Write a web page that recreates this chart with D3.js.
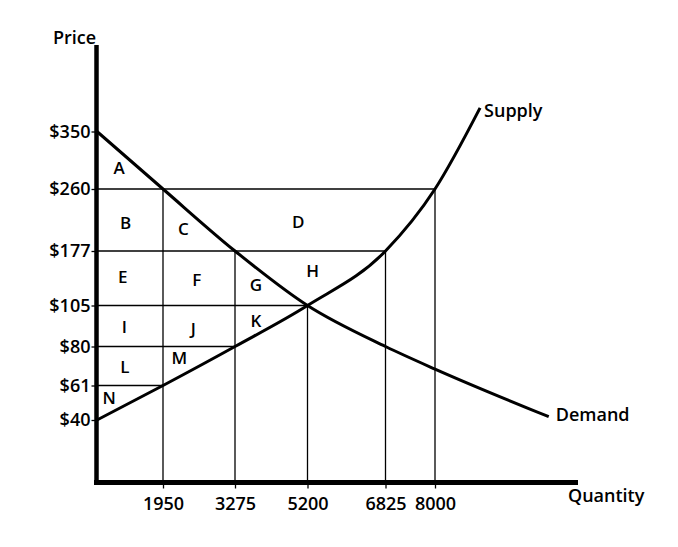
<!DOCTYPE html>
<html><head><meta charset="utf-8">
<script src="https://cdn.jsdelivr.net/npm/d3@7"></script>
<style>body{margin:0;background:#fff} svg{display:block} text{font-family:"Open Sans",sans-serif;font-weight:600;fill:#000}</style>
</head><body><svg id="c" width="678" height="547"></svg>
<script>
// ---- data ----
const quantityTicks = [1950, 3275, 5200, 6825, 8000];
const priceTicks = [40, 61, 80, 105, 177, 260, 350];
const priceLabels = ["$40", "$61", "$80", "$105", "$177", "$260", "$350"];
const supplyQ = [0, 1950, 3275, 5200, 6825, 8000, 9070];
const supplyP = [40, 61, 80, 105, 177, 260, 387];
const demandQ = [0, 1950, 3275, 5200, 6825, 8000, 10700];
const demandP = [350, 260, 177, 105, 80, 69, 42];
const hLinePrice = [260, 177, 105, 80, 61];
const hLineEndQ = [8000, 6825, 5200, 3275, 1950];
const vLineQ = [1950, 3275, 5200, 6825, 8000];
const vLineTopP = [260, 177, 105, 177, 260];
const areaLetters = ["A","B","C","D","E","F","G","H","I","J","K","L","M","N"];
const letterQ = [650, 848, 2324, 4956, 760, 2570, 3833, 5308, 807, 2508, 3833, 827, 2250, 363];
const letterP = [293, 215, 206, 216, 143, 139, 132, 151, 92, 90.5, 95.7, 70.2, 74.4, 53.6];

// ---- layout ----
const svg = d3.select("#c");
const x = d3.scaleLinear().domain([0, 1950, 3275, 5200, 6825, 8000]).range([97, 163, 235, 307.5, 385.5, 435]);
const y = d3.scaleLinear().domain([40, 61, 80, 105, 177, 260, 350]).range([420, 385.5, 346.5, 305.5, 251, 189, 131.5]);
const axisY0 = 482.5, axisX0 = 96.5;
const thin = 1.3;

// grid lines
svg.append("g").selectAll("line").data(hLinePrice).join("line")
  .attr("x1", axisX0).attr("x2", (d, i) => x(hLineEndQ[i]))
  .attr("y1", d => y(d)).attr("y2", d => y(d))
  .attr("stroke", "#000").attr("stroke-width", thin);
svg.append("g").selectAll("line").data(vLineQ).join("line")
  .attr("x1", d => x(d)).attr("x2", d => x(d))
  .attr("y1", (d, i) => y(vLineTopP[i])).attr("y2", axisY0)
  .attr("stroke", "#000").attr("stroke-width", thin);

// axes ticks
const gx = svg.append("g").attr("transform", `translate(0,${axisY0})`)
  .call(d3.axisBottom(x).tickValues(quantityTicks).tickSize(6).tickPadding(9).tickFormat(d3.format("d")));
gx.select(".domain").remove();
gx.attr("font-size", 18).attr("font-family", null);
gx.selectAll("line").attr("stroke-width", thin);

const gy = svg.append("g").attr("transform", `translate(${axisX0},0)`)
  .call(d3.axisLeft(y).tickValues(priceTicks).tickSize(5).tickPadding(1).tickFormat((d, i) => priceLabels[i]));
gy.select(".domain").remove();
gy.attr("font-size", 18).attr("font-family", null);
gy.selectAll("line").attr("stroke-width", thin);

// curves
const line = d3.line().x(d => x(d[0])).y(d => y(d[1])).curve(d3.curveMonotoneX);
const supply = supplyQ.map((q, i) => [q, supplyP[i]]);
const demand = demandQ.map((q, i) => [q, demandP[i]]);
svg.append("path").attr("d", line(supply)).attr("fill", "none").attr("stroke", "#000").attr("stroke-width", 3);
svg.append("path").attr("d", line(demand)).attr("fill", "none").attr("stroke", "#000").attr("stroke-width", 3);

// main axis lines
svg.append("line").attr("x1", axisX0).attr("x2", axisX0).attr("y1", 45).attr("y2", 485)
  .attr("stroke", "#000").attr("stroke-width", 4.5);
svg.append("line").attr("x1", 94).attr("x2", 578).attr("y1", axisY0).attr("y2", axisY0)
  .attr("stroke", "#000").attr("stroke-width", 5);

// letters
svg.append("g").selectAll("text").data(areaLetters).join("text")
  .attr("x", (d, i) => x(letterQ[i])).attr("y", (d, i) => y(letterP[i]))
  .attr("text-anchor", "middle").attr("dy", "0.36em").attr("font-size", 17).text(d => d);

// labels
const sEnd = supply[supply.length - 1], dEnd = demand[demand.length - 1];
svg.append("text").attr("x", x(sEnd[0]) + 4).attr("y", y(sEnd[1]) + 3).attr("dy", "0.36em").attr("font-size", 18).text("Supply");
svg.append("text").attr("x", x(dEnd[0]) + 7).attr("y", y(dEnd[1]) - 2).attr("dy", "0.36em").attr("font-size", 18).text("Demand");
svg.append("text").attr("x", 53).attr("y", 44).attr("font-size", 18).text("Price");
svg.append("text").attr("x", 568).attr("y", 502).attr("font-size", 18).text("Quantity");
</script></body></html>
